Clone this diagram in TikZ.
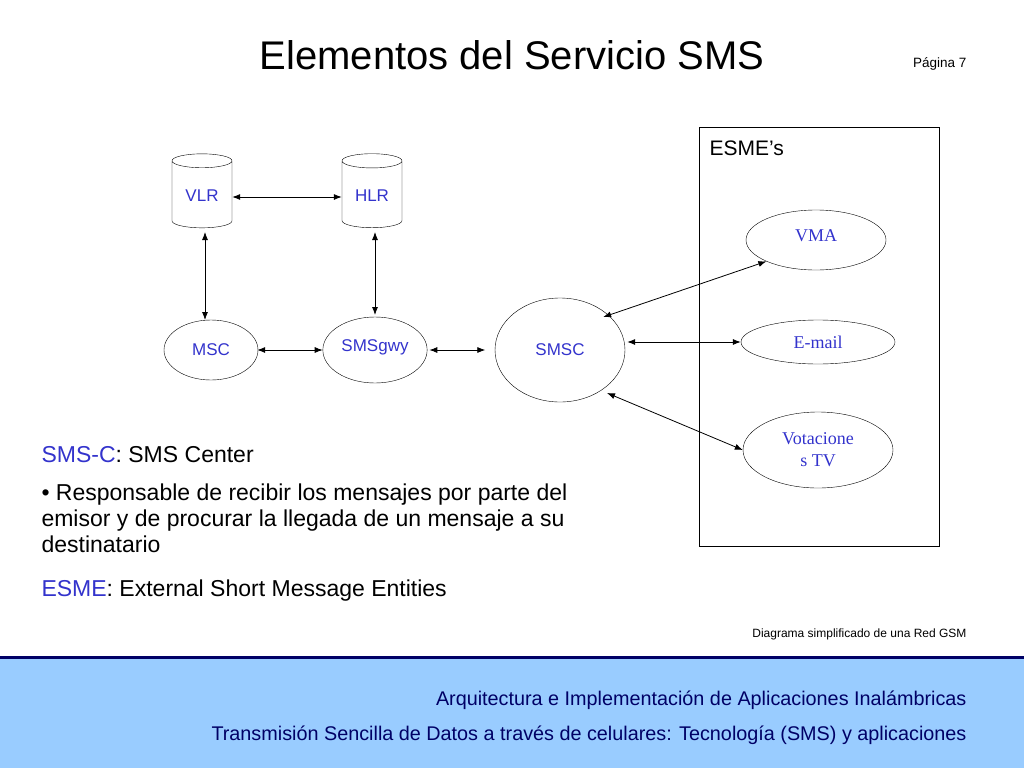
\documentclass[tikz,border=0pt]{standalone}
\usepackage{fontspec}
\setmainfont{Liberation Sans}
\newfontfamily\serifesme{Liberation Serif}
\usetikzlibrary{shapes.geometric,positioning,arrows.meta}
\definecolor{azul}{RGB}{51,51,204}
\definecolor{marino}{RGB}{0,0,102}
\definecolor{banda}{RGB}{153,204,255}
\begin{document}
\begin{tikzpicture}[
        x=1pt, y=-1pt,
        base/.style = {cylinder, shape border rotate=90, draw, aspect=0.35,
                minimum width=60pt, minimum height=74pt, text=azul, font=\fontsize{17}{17}\selectfont},
        nodo/.style = {ellipse, draw, text=azul, font=\fontsize{17}{17}\selectfont},
        esme/.style = {ellipse, draw, text=azul, align=center,
                font=\serifesme\fontsize{18}{22}\selectfont},
        flecha/.style = {{Latex[length=8pt,width=6pt]}-{Latex[length=8pt,width=6pt]}, thick},
        texto/.style = {anchor=west, font=\fontsize{23}{31}\selectfont},
    ]
    \useasboundingbox (0,0) rectangle (1024,768);
    % banda inferior
    \fill[banda] (0,659) rectangle (1024,768);
    \draw[marino, line width=3pt] (0,657) -- (1024,657);
    \node[anchor=east, text=marino, font=\fontsize{19.8}{19.8}\selectfont] (curso) at (970,700) {Arquitectura e Implementación de Aplicaciones Inalámbricas};
    \node[anchor=east, text=marino, font=\fontsize{19.8}{19.8}\selectfont] (tema) at (970,735) {Transmisión Sencilla de Datos a través de celulares: Tecnología (SMS) y aplicaciones};

    % titulo
    \node[font=\fontsize{40}{40}\selectfont] (titulo) at (512,55) {Elementos del Servicio SMS};
    \node[anchor=east, font=\fontsize{13.5}{13.5}\selectfont] (pagina) at (970,64) {Página 7};

    % red GSM
    \node[base] (vlr) at (202,196) {\raisebox{-6pt}{VLR}};
    \node[base] (hlr) at (372,196) {\raisebox{-6pt}{HLR}};
    \node[nodo, minimum width=94pt, minimum height=60pt] (msc) at (211,350) {\raisebox{-8pt}{MSC}};
    \node[nodo, minimum width=90pt, minimum height=66pt] (gwy) at (375,350) {\raisebox{8pt}{SMSgwy}};
    \node[nodo, minimum width=130pt, minimum height=104pt] (smsc) at (560,350) {SMSC};

    \draw[flecha] (vlr.east |- 0,197) -- (hlr.west |- 0,197);
    \draw[flecha] (205,232) -- (205,320);
    \draw[flecha] (375,232) -- (375,315);
    \draw[flecha] (msc.east |- 0,350) ++(-1,0) -- (gwy.west |- 0,350);
    \draw[flecha] (gwy.east |- 0,350) ++(2,0) -- ++(56,0);

    % ESMEs
    \draw (699,127) rectangle (939,546);
    \node[anchor=west, font=\fontsize{21}{21}\selectfont] (titesme) at (706,148) {ESME’s};
    \node[esme, minimum width=140pt, minimum height=60pt] (vma) at (816,240) {\raisebox{8pt}{VMA}};
    \node[esme, minimum width=154pt, minimum height=44pt] (mail) at (818,342) {E-mail};
    \node[esme, minimum width=150pt, minimum height=76pt, inner sep=1pt] (voto) at (818,450) {Votacione\\s TV};

    \draw[flecha] (smsc.north east) ++(-3,4) -- (vma.south west);
    \draw[flecha] (smsc.east |- 0,342) ++(2,0) -- (mail.west);
    \draw[flecha] (607,393) -- (voto.west);

    % texto
    \node[texto] (def1) at (38,455) {\textcolor{azul}{SMS-C}: SMS Center};
    \node[texto, align=left, anchor=north west] (def2) at (38,480) {• Responsable de recibir los mensajes por parte del\\[-5pt]emisor y de procurar la llegada de un mensaje a su\\[-5pt]destinatario};
    \node[texto] (def3) at (38,591) {\textcolor{azul}{ESME}: External Short Message Entities};
    \node[anchor=east, font=\fontsize{12}{12}\selectfont] (nota) at (970,634) {Diagrama simplificado de una Red GSM};
\end{tikzpicture}
\end{document}
